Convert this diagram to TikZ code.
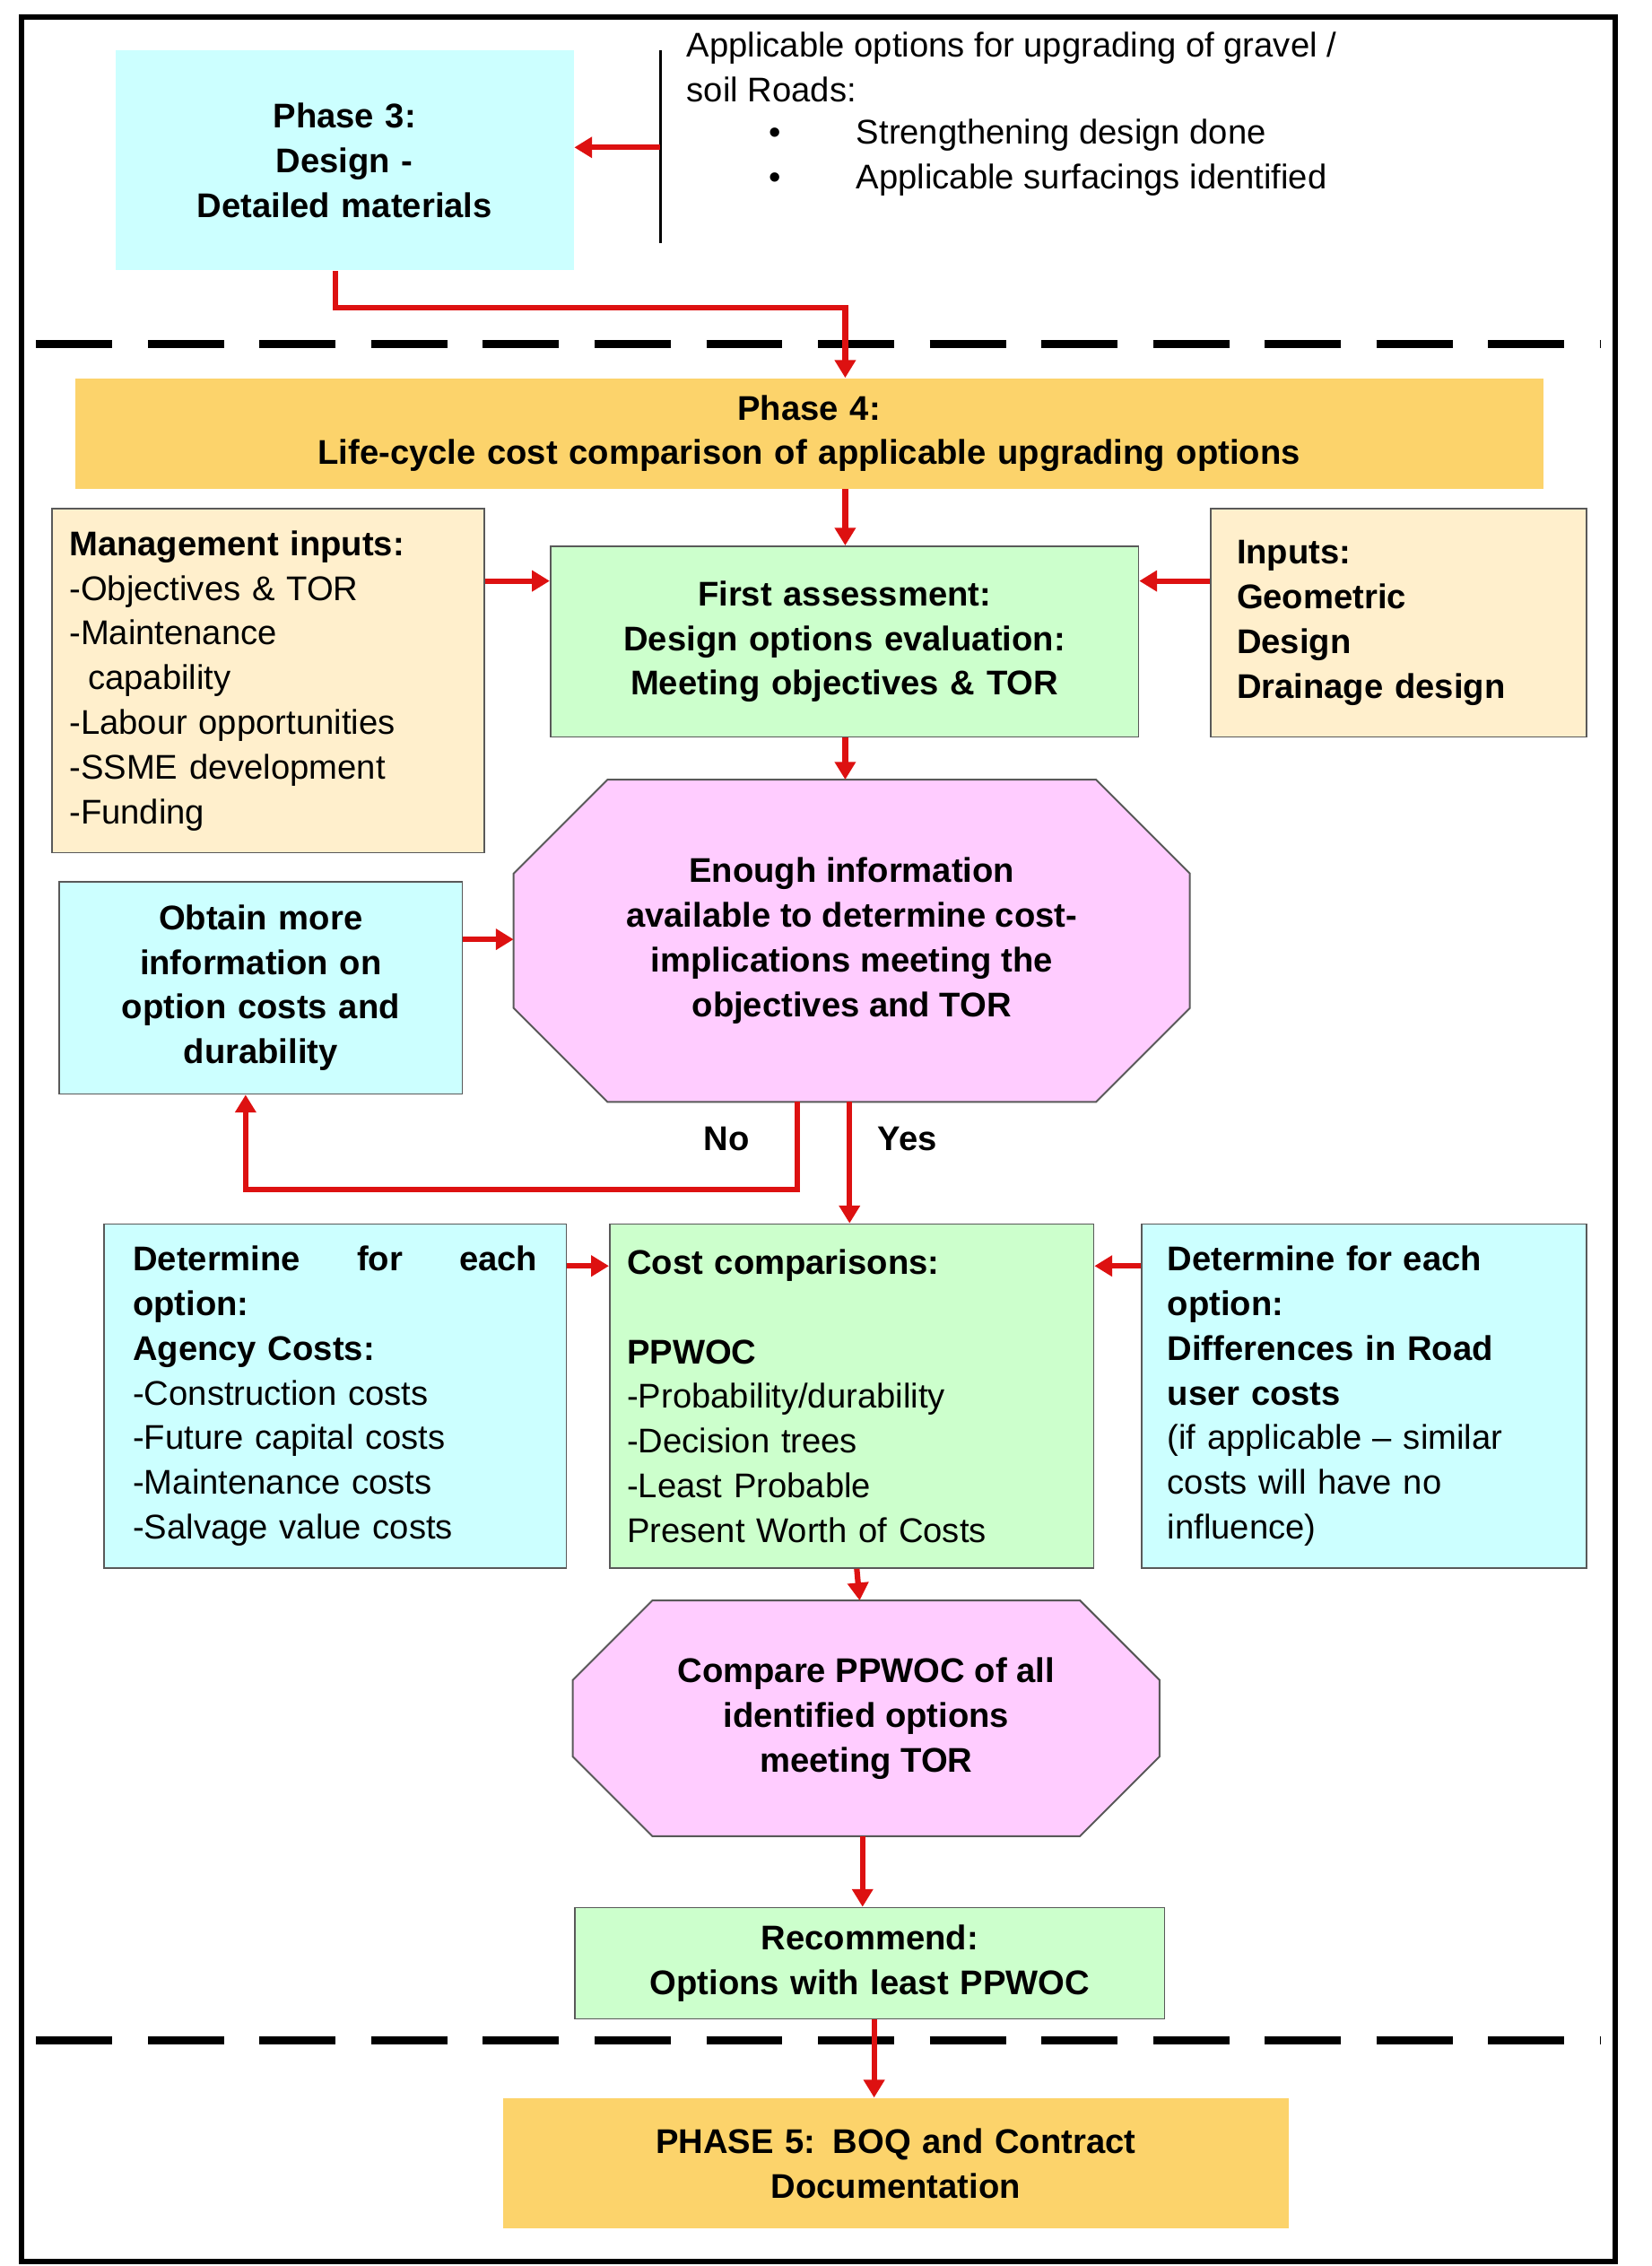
\documentclass[tikz,border=0pt]{standalone}
\usepackage{fontspec}
\setmainfont{Liberation Sans}
\usetikzlibrary{arrows.meta,calc}
\definecolor{cy}{HTML}{CCFFFF}
\definecolor{gr}{HTML}{CCFFCC}
\definecolor{pk}{HTML}{FFCCFF}
\definecolor{og}{HTML}{FCD36B}
\definecolor{pe}{HTML}{FFEFCC}
\definecolor{ar}{HTML}{DD1111}
\newcommand\bx[8]{\node[#6,minimum width={(#4-#2)*0.02cm},minimum height={(#5-#3)*0.02cm},text width={(#4-#2-#7)*0.02cm}] (#1) at ({(#2+#4)/2},{(#3+#5)/2}) {#8};}
\newcommand\octo[2]{\fill[pk] ($(#1.north west)+(#2,0)$) -- ($(#1.north east)+(-#2,0)$) -- ($(#1.north east)+(0,-#2)$) -- ($(#1.south east)+(0,#2)$) -- ($(#1.south east)+(-#2,0)$) -- ($(#1.south west)+(#2,0)$) -- ($(#1.south west)+(0,#2)$) -- ($(#1.north west)+(0,-#2)$) -- cycle;
\draw[gray!70!black,line width=0.7pt] ($(#1.north west)+(#2,0)$) -- ($(#1.north east)+(-#2,0)$) -- ($(#1.north east)+(0,-#2)$) -- ($(#1.south east)+(0,#2)$) -- ($(#1.south east)+(-#2,0)$) -- ($(#1.south west)+(#2,0)$) -- ($(#1.south west)+(0,#2)$) -- ($(#1.north west)+(0,-#2)$) -- cycle;}
\begin{document}
\begin{tikzpicture}[x=0.02cm,y=-0.02cm,
 every node/.style={font=\fontsize{13.5}{17.6}\selectfont, inner sep=0pt},
 b/.style={draw=gray!70!black,line width=0.6pt,align=center,font=\fontsize{13.5}{17.6}\selectfont\bfseries},
 l/.style={b,align=left,font=\fontsize{13.5}{17.6}\selectfont},
 arr/.style={ar,line width=2.2pt,-{Triangle[length=7pt,width=8pt]}},
 dashln/.style={line width=3pt,dash pattern=on 30pt off 14pt}]
\useasboundingbox (0,0) rectangle (1143,1568);
\draw[line width=2pt] (15,12) rectangle (1118,1565);
% Phase 3
\bx{p3}{80}{35}{397}{187}{b,fill=cy,draw=none}{10}{Phase 3:\\Design -\\Detailed materials}
\draw[line width=1pt] (457,35) coordinate (vt) -- (457,168);
\coordinate (va) at (457,102);
\draw[arr] (va) -- (p3.east|-va);
\node[anchor=north west,align=left] (app) at (475,22) {Applicable options for upgrading of gravel /\\soil Roads:\\[-1pt]
\hspace*{2.4em}\textbullet\hspace{2.2em}Strengthening design done\\
\hspace*{2.4em}\textbullet\hspace{2.2em}Applicable surfacings identified};
\draw[dashln] (25,238) -- (1108,238);
\draw[dashln] (25,1412) -- (1108,1412);
% Phase 4
\bx{p4}{52}{262}{1068}{338}{b,fill=og,draw=none}{10}{Phase 4:\\Life-cycle cost comparison of applicable upgrading options}
\coordinate (k1) at (232,213);
\draw[arr] (p3.south-|k1) -- (k1) -- (585,213) -- (p4.north-|585,0);
% row 2
\bx{mi}{36}{352}{335}{590}{l,fill=pe}{24}{\textbf{Management inputs:}\\-Objectives \& TOR\\-Maintenance\\\hspace*{0.55em}capability\\-Labour opportunities\\-SSME development\\-Funding}
\bx{fa}{381}{378}{788}{510}{b,fill=gr}{10}{First assessment:\\Design options evaluation:\\Meeting objectives \& TOR}
\bx{in}{838}{352}{1098}{510}{l,fill=pe,font=\fontsize{13.5}{17.6}\selectfont\bfseries}{36}{Inputs:\\Geometric\\Design\\Drainage design}
\draw[arr] (p4.south-|585,0) -- (fa.north-|585,0);
\draw[arr] (mi.east|-0,402) -- (fa.west|-0,402);
\draw[arr] (in.west|-0,402) -- (fa.east|-0,402);
% octagon 1
\bx{o1}{356}{540}{823}{762}{b,draw=none}{90}{}
\octo{o1}{1.3cm}
\node[align=center,font=\fontsize{13.5}{17.6}\selectfont\bfseries] at (o1) {Enough information\\available to determine cost-\\implications meeting the\\objectives and TOR};
\draw[arr] (fa.south-|585,0) -- (o1.north-|585,0);
\bx{om}{41}{610}{320}{757}{b,fill=cy}{10}{Obtain more\\information on\\option costs and\\durability}
\draw[arr] (om.east|-0,650) -- (o1.west|-0,650);
\draw[arr] (o1.south-|552,0) -- (552,823) -- (170,823) -- (om.south-|170,0);
\node (no) at (503,788) {\bfseries No};
\node (yes) at (628,788) {\bfseries Yes};
% row cost
\bx{cc}{422}{847}{757}{1085}{l,fill=gr}{24}{\textbf{Cost comparisons:}\\[17.6pt]\textbf{PPWOC}\\-Probability/durability\\-Decision trees\\-Least Probable\\Present Worth of Costs}
\bx{ag}{72}{847}{392}{1085}{l,fill=cy}{40}{\textbf{Determine\hfill for\hfill each}\\\textbf{option:}\\\textbf{Agency Costs:}\\-Construction costs\\-Future capital costs\\-Maintenance costs\\-Salvage value costs}
\bx{ru}{790}{847}{1098}{1085}{l,fill=cy}{36}{\textbf{Determine for each}\\\textbf{option:}\\\textbf{Differences in Road}\\\textbf{user costs}\\(if applicable -- similar\\costs will have no\\influence)}
\draw[arr] (o1.south-|588,0) -- (cc.north-|588,0);
\draw[arr] (ag.east|-0,876) -- (cc.west|-0,876);
\draw[arr] (ru.west|-0,876) -- (cc.east|-0,876);
% octagon 2
\bx{o2}{397}{1108}{802}{1270}{b,draw=none}{90}{}
\octo{o2}{1.1cm}
\node[align=center,font=\fontsize{13.5}{17.6}\selectfont\bfseries] at (o2) {Compare PPWOC of all\\identified options\\meeting TOR};
\draw[arr] (cc.south-|593,0) -- (o2.north-|595,0);
\bx{rc}{398}{1320}{806}{1397}{b,fill=gr}{10}{Recommend:\\Options with least PPWOC}
\draw[arr] (o2.south-|597,0) -- (rc.north-|597,0);
\bx{p5}{348}{1452}{892}{1542}{b,fill=og,draw=none}{10}{PHASE 5: BOQ and Contract\\Documentation}
\draw[arr] (rc.south-|605,0) -- (p5.north-|605,0);
\end{tikzpicture}
\end{document}
